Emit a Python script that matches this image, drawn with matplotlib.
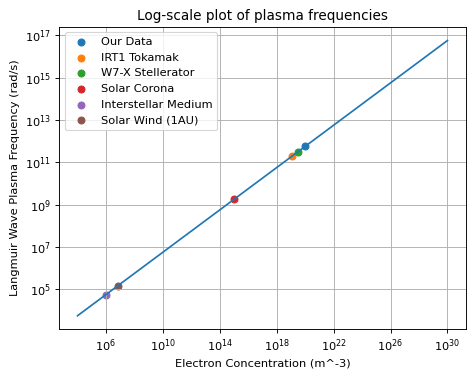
import matplotlib
matplotlib.use("Agg")
import matplotlib.pyplot as plt

# theoretical curve end points (straight on log-log axes)
line_n = [1e4, 1e30]
line_w = [5.64e3, 5.64e16]

labels = ['Our Data', 'IRT1 Tokamak', 'W7-X Stellerator', 'Solar Corona',
          'Interstellar Medium', 'Solar Wind (1AU)']
conc = [1e20, 1.2e19, 3e19, 1e15, 1e6, 7e6]
freq = [5.64e11, 1.95e11, 3.09e11, 1.78e9, 5.64e4, 1.49e5]

fig, ax = plt.subplots(figsize=(474 / 82, 377 / 82), dpi=82)
fig.subplots_adjust(left=0.1245, right=0.983, top=0.929, bottom=0.126)

ax.plot(line_n, line_w)
for i, name in enumerate(labels):
    ax.scatter(conc[i], freq[i], color=f'C{i}', label=name)

ax.set_xscale('log')
ax.set_yscale('log')
ax.set_title('Log-scale plot of plasma frequencies')
ax.set_xlabel('Electron Concentration (m^-3)')
ax.set_ylabel('Langmuir Wave Plasma Frequency (rad/s)')
ax.grid(True)
ax.legend(loc='upper left')

fig.savefig('out.png')
